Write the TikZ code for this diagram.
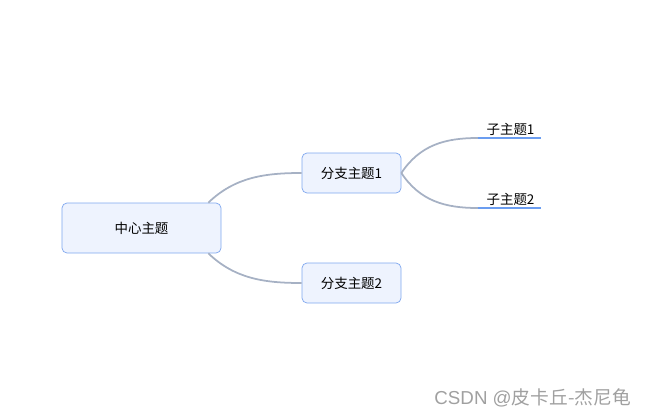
\documentclass[tikz,border=0pt]{standalone}
\usepackage{fontspec}
\setmainfont{Liberation Sans}
\newfontfamily\cjk{Noto Sans CJK SC}
\usetikzlibrary{calc}
\definecolor{topicfill}{HTML}{EEF3FE}
\definecolor{topicline}{HTML}{7FA7EF}
\definecolor{linkgray}{HTML}{A6B1C4}
\definecolor{subline}{HTML}{6B9DF0}
\definecolor{marktext}{HTML}{A0A0A0}
\tikzset{
  topic/.style={draw=topicline, fill=topicfill, line width=0.6pt, rounded corners=0.15cm,
    inner sep=0pt, text=black, font=\cjk\fontsize{11.5}{13}\selectfont},
  subtopic/.style={inner sep=0pt, minimum width=1.83cm, minimum height=0.5cm, anchor=south,
    text=black, font=\cjk\fontsize{11.5}{13}\selectfont},
  link/.style={draw=linkgray, line width=1.5pt},
  underline/.style={draw=subline, line width=1.5pt}
}
\begin{document}
\begin{tikzpicture}[x=0.03cm,y=-0.03cm]
\useasboundingbox (0,0) rectangle (646,415);
% topics
\node[topic, minimum width=4.77cm, minimum height=1.5cm] (center) at (141.5,228) {中心主题};
\node[topic, minimum width=2.97cm, minimum height=1.2cm] (branchA) at (351.5,173) {分支主题1};
\node[topic, minimum width=2.97cm, minimum height=1.2cm] (branchB) at (351.5,283) {分支主题2};
\node[subtopic] (subA) at (510.5,138) {子主题1};
\node[subtopic] (subB) at (510.5,208) {子主题2};
% links
\coordinate (outA) at ($(center.north east)+(-13,0)$);
\coordinate (outB) at ($(center.south east)+(-13,0)$);
\coordinate (inA) at ($(subA.south west)+(-2,0)$);
\coordinate (inB) at ($(subB.south west)+(-2,0)$);
\draw[link] (outA) .. controls (235,177) and (265,173) .. (branchA.west);
\draw[link] (outB) .. controls (235,279) and (265,283) .. (branchB.west);
\draw[link] (branchA.east) .. controls (420,145) and (445,138) .. (inA);
\draw[link] (branchA.east) .. controls (420,201) and (445,208) .. (inB);
\draw[underline] (inA) -- (subA.south east);
\draw[underline] (inB) -- (subB.south east);
% watermark
\node[text=marktext, font=\fontsize{16}{18}\selectfont, anchor=east, inner sep=0pt] (mark) at (631,398) {CSDN @{\cjk 皮卡丘-杰尼龟}};
\end{tikzpicture}
\end{document}
